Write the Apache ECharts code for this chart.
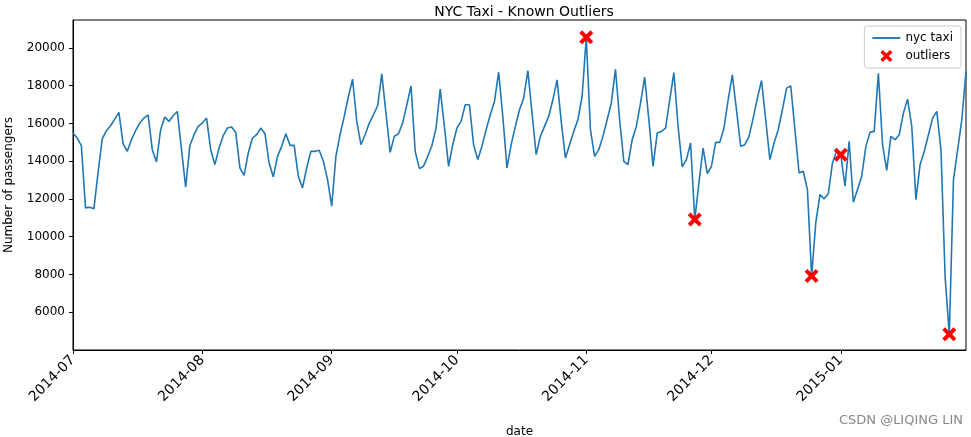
<!DOCTYPE html>
<html>
<head>
<meta charset="utf-8">
<title>NYC Taxi - Known Outliers</title>
<script src="https://cdn.jsdelivr.net/npm/echarts@6/dist/echarts.min.js"></script>
<style>html,body{margin:0;padding:0;background:#fff}#main{width:971px;height:437px}</style>
</head>
<body>
<div id="main"></div>
<script>
// daily mean passengers, 2014-07-01 .. 2015-01-31
var taxi = [
  15492,15228,14823,11529,11565,11477,13378,15175,15615,15879,
  16231,16583,14928,14523,15140,15615,16020,16284,16460,14611,
  13959,15668,16337,16108,16407,16636,14611,12621,14823,15404,
  15844,16020,16284,14611,13819,14699,15351,15756,15809,15527,
  13643,13255,14435,15228,15404,15756,15457,13907,13167,14259,
  14787,15457,14840,14840,13202,
  12586,13642,14523,14523,14576,13995,13026,11617,14259,15404,
  16372,17429,18344,16108,14875,15404,16020,16460,16936,18626,
  16548,14470,15316,15457,16020,16988,17992,14523,13607,13730,
  14259,14822,15756,17816,15844,13730,14875,15756,16108,16988,
  16988,14875,14083,14787,15668,16460,17165,18714,16372,13642,
  14875,15844,16724,
  17341,18802,16548,14347,15316,15844,16372,17253,18309,16108,
  14171,14875,15580,16196,17429,20560,
  15668,14259,14611,15316,16196,17077,18873,16196,13995,13819,
  15140,15844,17077,18450,16196,13730,15492,15580,15756,17253,
  18697,15844,13695,14083,14963,10913,12850,14699,13343,13730,
  14998,14998,15756,17253,18573,
  16724,14787,14875,15316,16284,17341,18274,16196,14083,14963,
  15668,16724,17869,17992,15668,13378,13466,12498,7919,10737,
  12234,12005,12287,13907,14523,14346,12674,15051,11829,12498,
  13202,14787,15527,15580,18661,14875,13519,15316,15140,15404,
  16548,17288,15844,11970,13819,14523,15404,16284,16636,14611,
  7849,4838,13026,14611,16196,18749
];
var outlierDates = ['2014-11-01', '2014-11-27', '2014-12-25', '2015-01-01', '2015-01-27'];
var outlierValues = [20560, 10913, 7919, 14346, 4838];

var dates = [];
var d0 = Date.UTC(2014, 6, 1);
for (var i = 0; i < taxi.length; i++) {
  dates.push(new Date(d0 + i * 86400000).toISOString().slice(0, 10));
}
function isMonthStart(idx) { return dates[idx].slice(8) === '01'; }

var cross = 'path://M2,0 L5,3 L8,0 L10,2 L7,5 L10,8 L8,10 L5,7 L2,10 L0,8 L3,5 L0,2 Z';
var font = 'DejaVu Sans';

var chart = echarts.init(document.getElementById('main'));
chart.setOption({
  animation: false,
  textStyle: {fontFamily: font},
  title: {
    text: 'NYC Taxi - Known Outliers', left: 519, top: 0, textAlign: 'center',
    textStyle: {fontFamily: font, fontSize: 14, fontWeight: 'normal', color: '#000'}
  },
  legend: {
    right: 10, top: 26, orient: 'vertical', itemGap: 6,
    borderColor: '#ccc', borderWidth: 1, borderRadius: 3, padding: [6, 8],
    backgroundColor: 'rgba(255,255,255,0.8)',
    textStyle: {fontFamily: font, fontSize: 12, color: '#000'},
    data: [{name: 'nyc taxi', icon: 'path://M0,4 L30,4 L30,6 L0,6 Z'},
           {name: 'outliers', icon: cross}],
    itemWidth: 28, itemHeight: 12
  },
  grid: {left: 73, right: 5, top: 20, bottom: 87, outerBoundsMode: 'none',
         show: true, borderColor: '#000', borderWidth: 1},
  xAxis: {
    type: 'category', data: dates, boundaryGap: false,
    name: 'date', nameLocation: 'middle', nameGap: 76,
    nameTextStyle: {fontFamily: font, fontSize: 12, color: '#000'},
    axisLine: {lineStyle: {color: '#000'}},
    axisTick: {interval: isMonthStart, length: 4, lineStyle: {color: '#000'}},
    axisLabel: {
      interval: isMonthStart, rotate: 45, fontSize: 14, color: '#000', fontFamily: font,
      formatter: function (v) { return v.slice(0, 7); }
    },
    splitLine: {show: false}
  },
  yAxis: {
    type: 'value', min: 4000, max: 21480, interval: 2000,
    name: 'Number of passengers', nameLocation: 'middle', nameGap: 58,
    nameTextStyle: {fontFamily: font, fontSize: 12, color: '#000'},
    axisLine: {show: true, lineStyle: {color: '#000'}},
    axisTick: {show: true, length: 4, lineStyle: {color: '#000'}},
    axisLabel: {fontSize: 12, color: '#000', fontFamily: font, showMinLabel: false, showMaxLabel: false,
      formatter: function (v) { return String(v); }},
    splitLine: {show: false}
  },
  series: [
    {name: 'nyc taxi', type: 'line', data: taxi, showSymbol: false, symbol: 'none',
     lineStyle: {color: '#1f77b4', width: 1.6}, itemStyle: {color: '#1f77b4'}},
    {name: 'outliers', type: 'scatter', symbol: cross, symbolSize: 14,
     itemStyle: {color: '#ff0000', opacity: 1}, z: 5,
     data: outlierDates.map(function (d, k) { return [d, outlierValues[k]]; })}
  ],
  graphic: [{type: 'text', right: 8, bottom: 10,
    style: {text: 'CSDN @LIQING LIN', fontFamily: font, fontSize: 13, fill: '#888'}}]
});
</script>
</body>
</html>
